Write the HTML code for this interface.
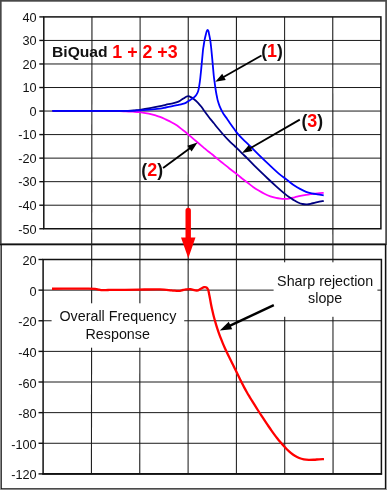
<!DOCTYPE html>
<html><head><meta charset="utf-8"><title>BiQuad frequency response</title>
<style>html,body{margin:0;padding:0;background:#fff}body{width:387px;height:490px;overflow:hidden}</style></head>
<body>
<svg width="387" height="490" viewBox="0 0 387 490" style="display:block">
<rect x="0" y="0" width="387" height="490" fill="#fff"/>
<rect x="0.8" y="0.85" width="385.3" height="243.4" fill="none" stroke="#484848" stroke-width="1.7"/>
<path d="M1.15 244.5V488.9H385.5V244.5" fill="none" stroke="#111" stroke-width="1.3"/>
<path d="M0 489.7H387M386.6 245V490" fill="none" stroke="#888" stroke-width="0.8"/>
<line x1="0" y1="244.5" x2="386" y2="244.5" stroke="#111" stroke-width="1.5"/>
<g stroke="#222" stroke-width="1.1">
<line x1="91.96" y1="16.90" x2="91.43" y2="473.90"/>
<line x1="140.11" y1="16.90" x2="139.76" y2="473.90"/>
<line x1="188.27" y1="16.90" x2="188.09" y2="473.90"/>
<line x1="236.43" y1="16.90" x2="236.41" y2="473.90"/>
<line x1="284.59" y1="16.90" x2="284.74" y2="473.90"/>
<line x1="332.74" y1="16.90" x2="333.07" y2="473.90"/>
</g>
<g stroke="#1a1a1a" stroke-width="1.0">
<line x1="43.80" y1="40.44" x2="380.90" y2="40.44"/>
<line x1="43.80" y1="63.98" x2="380.90" y2="63.98"/>
<line x1="43.80" y1="87.52" x2="380.90" y2="87.52"/>
<line x1="43.80" y1="111.06" x2="380.90" y2="111.06"/>
<line x1="43.80" y1="134.59" x2="380.90" y2="134.59"/>
<line x1="43.80" y1="158.13" x2="380.90" y2="158.13"/>
<line x1="43.80" y1="181.67" x2="380.90" y2="181.67"/>
<line x1="43.80" y1="205.21" x2="380.90" y2="205.21"/>
<line x1="43.10" y1="290.13" x2="381.40" y2="290.13"/>
<line x1="43.10" y1="320.76" x2="381.40" y2="320.76"/>
<line x1="43.10" y1="351.39" x2="381.40" y2="351.39"/>
<line x1="43.10" y1="382.01" x2="381.40" y2="382.01"/>
<line x1="43.10" y1="412.64" x2="381.40" y2="412.64"/>
<line x1="43.10" y1="443.27" x2="381.40" y2="443.27"/>
</g>
<rect x="51.6" y="303.3" width="132.6" height="44.4" fill="#fff"/>
<rect x="273.6" y="262.3" width="103.8" height="54.5" fill="#fff"/>
<rect x="43.80" y="16.90" width="337.10" height="211.85" fill="none" stroke="#111" stroke-width="1.5"/>
<rect x="43.10" y="259.50" width="338.30" height="214.40" fill="none" stroke="#111" stroke-width="1.5"/>
<line x1="42.40" y1="473.90" x2="382.10" y2="473.90" stroke="#111" stroke-width="1.8"/>
<g stroke="#111" stroke-width="1.4">
<line x1="39.3" y1="16.90" x2="43.80" y2="16.90"/>
<line x1="39.3" y1="40.44" x2="43.80" y2="40.44"/>
<line x1="39.3" y1="63.98" x2="43.80" y2="63.98"/>
<line x1="39.3" y1="87.52" x2="43.80" y2="87.52"/>
<line x1="39.3" y1="111.06" x2="43.80" y2="111.06"/>
<line x1="39.3" y1="134.59" x2="43.80" y2="134.59"/>
<line x1="39.3" y1="158.13" x2="43.80" y2="158.13"/>
<line x1="39.3" y1="181.67" x2="43.80" y2="181.67"/>
<line x1="39.3" y1="205.21" x2="43.80" y2="205.21"/>
<line x1="39.3" y1="228.75" x2="43.80" y2="228.75"/>
<line x1="38.5" y1="259.50" x2="43.10" y2="259.50"/>
<line x1="38.5" y1="290.13" x2="43.10" y2="290.13"/>
<line x1="38.5" y1="320.76" x2="43.10" y2="320.76"/>
<line x1="38.5" y1="351.39" x2="43.10" y2="351.39"/>
<line x1="38.5" y1="382.01" x2="43.10" y2="382.01"/>
<line x1="38.5" y1="412.64" x2="43.10" y2="412.64"/>
<line x1="38.5" y1="443.27" x2="43.10" y2="443.27"/>
<line x1="38.5" y1="473.90" x2="43.10" y2="473.90"/>
</g>
<g font-family="'Liberation Sans', Arial, sans-serif" font-size="12.7" fill="#111" text-anchor="end">
<text x="36.6" y="21.70">40</text>
<text x="36.6" y="45.24">30</text>
<text x="36.6" y="68.78">20</text>
<text x="36.6" y="92.32">10</text>
<text x="36.6" y="115.86">0</text>
<text x="36.6" y="139.39">-10</text>
<text x="36.6" y="162.93">-20</text>
<text x="36.6" y="186.47">-30</text>
<text x="36.6" y="210.01">-40</text>
<text x="36.6" y="233.55">-50</text>
<text x="36.6" y="265.00">20</text>
<text x="36.6" y="295.63">0</text>
<text x="36.6" y="326.26">-20</text>
<text x="36.6" y="356.89">-40</text>
<text x="36.6" y="387.51">-60</text>
<text x="36.6" y="418.14">-80</text>
<text x="36.6" y="448.77">-100</text>
<text x="36.6" y="479.40">-120</text>
</g>
<g fill="none" stroke-linecap="butt" stroke-linejoin="round">
<path d="M52.40 110.90C62.00 110.90 98.73 110.87 110.00 110.90C121.27 110.93 117.33 111.02 120.00 111.10C122.67 111.18 123.83 111.30 126.00 111.40C128.17 111.50 130.73 111.57 133.00 111.70C135.27 111.83 136.98 111.87 139.60 112.20C142.22 112.53 146.03 113.17 148.70 113.70C151.37 114.23 153.72 114.88 155.60 115.40C157.48 115.92 158.32 116.13 160.00 116.80C161.68 117.47 163.80 118.50 165.70 119.40C167.60 120.30 169.50 121.17 171.40 122.20C173.30 123.23 175.22 124.30 177.10 125.60C178.98 126.90 181.22 128.85 182.70 130.00C184.18 131.15 184.50 131.27 186.00 132.50C187.50 133.73 189.80 135.77 191.70 137.40C193.60 139.03 195.50 140.68 197.40 142.30C199.30 143.92 201.22 145.52 203.10 147.10C204.98 148.68 207.22 150.60 208.70 151.80C210.18 153.00 210.50 153.08 212.00 154.30C213.50 155.52 215.80 157.55 217.70 159.10C219.60 160.65 221.50 162.08 223.40 163.60C225.30 165.12 226.97 166.53 229.10 168.20C231.23 169.87 234.10 171.92 236.20 173.60C238.30 175.28 239.83 176.82 241.70 178.30C243.57 179.78 245.50 181.07 247.40 182.50C249.30 183.93 251.22 185.57 253.10 186.90C254.98 188.23 256.82 189.37 258.70 190.50C260.58 191.63 262.45 192.73 264.40 193.70C266.35 194.67 268.47 195.60 270.40 196.30C272.33 197.00 274.32 197.52 276.00 197.90C277.68 198.28 279.12 198.45 280.50 198.60C281.88 198.75 282.88 198.80 284.30 198.80C285.72 198.80 287.27 198.85 289.00 198.60C290.73 198.35 292.80 197.75 294.70 197.30C296.60 196.85 298.50 196.32 300.40 195.90C302.30 195.48 304.22 195.12 306.10 194.80C307.98 194.48 309.82 194.25 311.70 194.00C313.58 193.75 315.40 193.50 317.40 193.30C319.40 193.10 322.65 192.88 323.70 192.80" stroke="#ff00ff" stroke-width="1.8"/>
<path d="M52.40 110.85C62.00 110.85 97.40 110.86 110.00 110.85C122.60 110.84 123.83 110.89 128.00 110.80C132.17 110.71 133.00 110.47 135.00 110.30C137.00 110.13 137.50 110.15 140.00 109.80C142.50 109.45 146.67 108.80 150.00 108.20C153.33 107.60 157.38 106.77 160.00 106.20C162.62 105.63 163.80 105.23 165.70 104.80C167.60 104.37 169.50 104.03 171.40 103.60C173.30 103.17 175.58 102.72 177.10 102.20C178.62 101.68 179.37 101.17 180.50 100.50C181.63 99.83 182.87 98.87 183.90 98.20C184.93 97.53 185.95 96.83 186.70 96.50C187.45 96.17 187.73 96.10 188.40 96.20C189.07 96.30 189.87 96.67 190.70 97.10C191.53 97.53 192.18 97.85 193.40 98.80C194.62 99.75 196.67 101.47 198.00 102.80C199.33 104.13 200.37 105.47 201.40 106.80C202.43 108.13 203.25 109.47 204.20 110.80C205.15 112.13 206.22 113.60 207.10 114.80C207.98 116.00 208.37 116.58 209.50 118.00C210.63 119.42 212.75 121.88 213.90 123.30C215.05 124.72 214.85 124.63 216.40 126.50C217.95 128.37 221.12 132.13 223.20 134.50C225.28 136.87 227.00 138.78 228.90 140.70C230.80 142.62 233.35 144.83 234.60 146.00C235.85 147.17 235.16 146.48 236.40 147.70C237.64 148.92 240.20 151.48 242.05 153.30C243.90 155.12 245.11 156.20 247.50 158.60C249.89 161.00 253.03 164.38 256.40 167.70C259.77 171.02 264.40 175.40 267.70 178.50C271.00 181.60 273.33 183.73 276.20 186.30C279.07 188.87 282.77 192.10 284.90 193.90C287.03 195.70 287.57 196.10 289.00 197.10C290.43 198.10 291.98 199.00 293.50 199.90C295.02 200.80 296.58 201.82 298.10 202.50C299.62 203.18 301.08 203.70 302.60 204.00C304.12 204.30 305.68 204.38 307.20 204.30C308.72 204.22 310.00 203.85 311.70 203.50C313.40 203.15 315.40 202.62 317.40 202.20C319.40 201.78 322.65 201.20 323.70 201.00" stroke="#000080" stroke-width="1.8"/>
<path d="M52.40 110.85C60.33 110.85 87.90 110.85 100.00 110.85C112.10 110.85 119.50 110.86 125.00 110.85C130.50 110.84 130.50 110.88 133.00 110.80C135.50 110.72 137.17 110.60 140.00 110.40C142.83 110.20 146.67 109.88 150.00 109.60C153.33 109.32 157.38 109.05 160.00 108.70C162.62 108.35 163.80 107.88 165.70 107.50C167.60 107.12 169.50 106.78 171.40 106.40C173.30 106.02 175.22 105.62 177.10 105.20C178.98 104.78 181.18 104.33 182.70 103.90C184.22 103.47 184.98 103.22 186.20 102.60C187.42 101.98 188.80 100.98 190.00 100.20C191.20 99.42 192.36 98.77 193.40 97.90C194.44 97.03 195.45 96.15 196.25 95.00C197.05 93.85 197.69 92.60 198.20 91.00C198.71 89.40 198.95 87.57 199.30 85.40C199.65 83.23 199.90 81.58 200.30 78.00C200.70 74.42 201.27 68.40 201.70 63.90C202.13 59.40 202.60 53.87 202.90 51.00C203.20 48.13 203.22 48.55 203.50 46.70C203.78 44.85 204.20 41.98 204.60 39.90C205.00 37.82 205.53 35.68 205.90 34.20C206.27 32.72 206.52 31.72 206.80 31.00C207.08 30.28 207.33 29.90 207.60 29.90C207.87 29.90 208.15 30.28 208.40 31.00C208.65 31.72 208.80 32.72 209.10 34.20C209.40 35.68 209.85 37.60 210.20 39.90C210.55 42.20 210.78 44.00 211.20 48.00C211.62 52.00 212.27 59.23 212.70 63.90C213.13 68.57 213.48 72.98 213.80 76.00C214.12 79.02 214.33 80.00 214.60 82.00C214.87 84.00 215.13 86.17 215.40 88.00C215.67 89.83 215.93 91.50 216.20 93.00C216.47 94.50 216.72 95.65 217.00 97.00C217.28 98.35 217.47 99.57 217.90 101.10C218.33 102.63 218.95 104.58 219.60 106.20C220.25 107.82 221.05 109.37 221.80 110.80C222.55 112.23 223.23 113.48 224.10 114.80C224.97 116.12 225.98 117.25 227.00 118.70C228.02 120.15 229.03 121.82 230.20 123.50C231.37 125.18 232.80 127.17 234.00 128.80C235.20 130.43 236.02 131.67 237.40 133.30C238.78 134.93 240.40 136.68 242.30 138.60C244.20 140.52 247.33 143.38 248.80 144.80C250.28 146.22 249.43 145.38 251.15 147.10C252.87 148.82 256.16 152.22 259.10 155.10C262.04 157.98 265.47 161.27 268.80 164.40C272.13 167.53 276.42 171.60 279.10 173.90C281.78 176.20 283.25 176.93 284.90 178.20C286.55 179.47 287.37 180.23 289.00 181.50C290.63 182.77 292.87 184.57 294.70 185.80C296.53 187.03 298.10 187.90 300.00 188.90C301.90 189.90 304.15 191.05 306.10 191.80C308.05 192.55 309.82 192.97 311.70 193.40C313.58 193.83 315.40 194.08 317.40 194.40C319.40 194.72 322.65 195.15 323.70 195.30" stroke="#0000ff" stroke-width="1.8"/>
<path d="M52.00 288.75C55.00 288.74 64.00 288.71 70.00 288.70C76.00 288.69 83.83 288.67 88.00 288.70C92.17 288.73 93.17 288.73 95.00 288.90C96.83 289.07 97.75 289.48 99.00 289.70C100.25 289.92 101.00 290.15 102.50 290.20C104.00 290.25 105.92 290.07 108.00 290.00C110.08 289.93 112.17 289.83 115.00 289.80C117.83 289.77 121.00 289.83 125.00 289.80C129.00 289.77 133.18 289.67 139.00 289.60C144.82 289.53 154.48 289.28 159.90 289.40C165.32 289.52 168.40 290.05 171.50 290.30C174.60 290.55 176.58 290.95 178.50 290.90C180.42 290.85 181.75 290.25 183.00 290.00C184.25 289.75 184.75 289.53 186.00 289.40C187.25 289.27 188.70 289.02 190.50 289.20C192.30 289.38 195.08 290.57 196.80 290.50C198.52 290.43 199.57 289.35 200.80 288.80C202.03 288.25 203.25 287.42 204.20 287.20C205.15 286.98 205.83 287.05 206.50 287.50C207.17 287.95 207.73 288.63 208.20 289.90C208.67 291.17 208.96 293.41 209.30 295.10C209.64 296.79 209.94 298.37 210.25 300.01C210.56 301.65 210.84 303.32 211.17 304.96C211.49 306.60 211.84 308.23 212.20 309.86C212.56 311.49 212.94 313.11 213.35 314.72C213.75 316.33 214.17 317.94 214.61 319.54C215.05 321.14 215.52 322.73 216.00 324.32C216.48 325.91 216.98 327.49 217.50 329.06C218.02 330.64 218.56 332.21 219.12 333.77C219.68 335.33 220.26 336.89 220.86 338.44C221.47 340.00 222.09 341.54 222.73 343.08C223.37 344.62 224.04 346.16 224.72 347.69C225.40 349.22 226.10 350.74 226.82 352.26C227.53 353.78 228.26 355.30 229.00 356.81C229.73 358.32 230.48 359.83 231.22 361.33C231.97 362.83 232.72 364.32 233.47 365.82C234.21 367.31 234.96 368.80 235.69 370.28C236.43 371.76 237.16 373.24 237.88 374.72C238.60 376.20 239.30 377.67 240.02 379.14C240.74 380.61 241.45 382.07 242.18 383.53C242.92 384.99 243.67 386.45 244.45 387.91C245.23 389.36 246.04 390.81 246.87 392.26C247.70 393.71 248.57 395.16 249.43 396.60C250.30 398.04 251.19 399.48 252.07 400.92C252.96 402.36 253.86 403.79 254.76 405.22C255.65 406.65 256.56 408.08 257.47 409.50C258.38 410.92 259.29 412.34 260.21 413.75C261.12 415.16 262.05 416.57 262.97 417.96C263.89 419.36 264.82 420.75 265.75 422.13C266.67 423.51 267.60 424.89 268.54 426.25C269.47 427.61 270.40 428.97 271.35 430.31C272.29 431.65 273.25 432.99 274.22 434.31C275.19 435.63 276.18 436.94 277.19 438.23C278.20 439.53 279.23 440.81 280.29 442.08C281.36 443.35 282.44 444.61 283.57 445.85C284.70 447.08 285.86 448.32 287.06 449.50C288.26 450.67 289.50 451.83 290.80 452.88C292.09 453.93 293.42 454.93 294.81 455.79C296.20 456.65 297.64 457.43 299.14 458.04C300.64 458.64 302.21 459.12 303.82 459.42C305.43 459.73 307.12 459.84 308.82 459.89C310.51 459.94 312.26 459.83 313.98 459.73C315.69 459.63 317.43 459.42 319.10 459.31C320.77 459.21 323.18 459.14 324.00 459.10" stroke="#ff0000" stroke-width="2.3"/>
</g>
<line x1="261.50" y1="55.50" x2="223.13" y2="77.26" stroke="#000" stroke-width="1.80"/><polygon points="215.30,81.70 222.22,73.64 225.77,79.90" fill="#000"/>
<line x1="163.10" y1="168.00" x2="190.26" y2="147.95" stroke="#000" stroke-width="1.80"/><polygon points="197.50,142.60 191.59,151.44 187.32,145.64" fill="#000"/>
<line x1="299.80" y1="119.60" x2="249.79" y2="148.50" stroke="#000" stroke-width="1.80"/><polygon points="242.00,153.00 248.86,144.88 252.46,151.11" fill="#000"/>
<line x1="273.80" y1="305.20" x2="229.59" y2="325.83" stroke="#000" stroke-width="2.40"/><polygon points="219.80,330.40 228.76,321.69 232.23,329.13" fill="#000"/>
<path d="M185.5 210.5a2.7 2.7 0 0 1 5.4 0V237.6H195.5L188.3 258.2L181 237.6H185.5Z" fill="#ff0000"/>
<g font-family="'Liberation Sans', Arial, sans-serif" fill="#111">
<text transform="translate(52.0 57.2) scale(1.03 1)" font-weight="bold" font-size="15.2">BiQuad</text>
<text x="112.3" y="57.7" font-weight="bold" font-size="17.8" fill="#ff0000">1 + 2 +3</text>
<text transform="translate(261.2 57.0) scale(0.935 1)" font-weight="bold" font-size="18.8">(<tspan fill="#ff0000" font-size="19.2">1</tspan>)</text>
<text transform="translate(141.3 175.6) scale(0.935 1)" font-weight="bold" font-size="18.8">(<tspan fill="#ff0000" font-size="19.2">2</tspan>)</text>
<text transform="translate(301.4 127.1) scale(0.935 1)" font-weight="bold" font-size="18.8">(<tspan fill="#ff0000" font-size="19.2">3</tspan>)</text>
<text x="117.9" y="321.2" font-size="14.3" text-anchor="middle">Overall Frequency</text>
<text x="117.7" y="338.6" font-size="14.3" text-anchor="middle">Response</text>
<text x="325.2" y="285.7" font-size="14.3" text-anchor="middle">Sharp rejection</text>
<text x="325.2" y="302.9" font-size="14.3" text-anchor="middle">slope</text>
</g>
</svg>
</body></html>
